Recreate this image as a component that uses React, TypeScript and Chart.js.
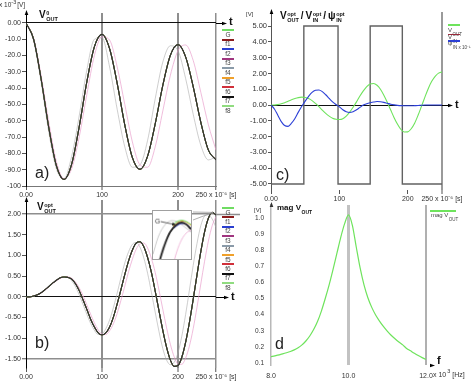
import React, { useEffect, useRef } from "react";
import { Chart, registerables } from "chart.js";

Chart.register(...registerables);

// ---------------- DATA ----------------
// panel a: V0_OUT (x10^-3 V) vs t (us)
const tA = [0, 10, 20, 30, 40, 50, 60, 70, 80, 90, 100, 110, 120, 130, 140, 150, 160, 170, 180, 190, 200, 210, 220, 230, 240, 250];
const aMain = [0, -10.0, -34.7, -64.3, -87.6, -96.0, -86.7, -63.7, -36.2, -14.6, -7.0, -15.8, -37.1, -62.6, -82.6, -89.8, -81.7, -61.9, -38.3, -19.8, -13.3, -20.8, -39.1, -60.9, -78.0, -84.0];
const aPink = [0, -9.3, -32.5, -60.8, -85.0, -95.5, -89.5, -70.0, -44.0, -20.0, -8.5, -10.5, -27.0, -50.0, -73.0, -87.0, -88.5, -76.0, -54.0, -32.0, -17.0, -13.5, -23.0, -42.5, -62.5, -78.0];
const aGray = [0, -11.0, -36.5, -67.0, -89.5, -95.5, -82.0, -57.0, -29.0, -10.0, -9.0, -27.0, -53.0, -76.0, -88.5, -87.0, -72.0, -46.5, -24.0, -14.0, -17.0, -34.0, -56.0, -75.0, -84.0, -82.0];

// panel b / c: time base (us)
const tB = [0, 5, 10, 15, 20, 25, 30, 35, 40, 45, 50, 55, 60, 65, 70, 75, 80, 85, 90, 95, 100, 105, 110, 115, 120, 125, 130, 135, 140, 145, 150, 155, 160, 165, 170, 175, 180, 185, 190, 195, 200, 205, 210, 215, 220, 225, 230, 235, 240, 245, 250];
const bMain = [0, 0, 0.02, 0.05, 0.10, 0.17, 0.25, 0.33, 0.40, 0.46, 0.48, 0.47, 0.43, 0.32, 0.15, -0.07, -0.30, -0.54, -0.73, -0.87, -0.92, -0.87, -0.73, -0.49, -0.17, 0.18, 0.54, 0.87, 1.13, 1.30, 1.33, 1.21, 0.95, 0.59, 0.14, -0.34, -0.81, -1.22, -1.53, -1.68, -1.66, -1.46, -1.10, -0.62, -0.06, 0.53, 1.09, 1.57, 1.90, 2.04, 1.98];
const bPink = [0, 0, 0.02, 0.05, 0.095, 0.16, 0.235, 0.32, 0.385, 0.445, 0.475, 0.485, 0.45, 0.36, 0.22, 0.03, -0.19, -0.42, -0.63, -0.80, -0.90, -0.91, -0.82, -0.65, -0.40, -0.08, 0.26, 0.61, 0.91, 1.15, 1.28, 1.30, 1.18, 0.93, 0.59, 0.16, -0.30, -0.75, -1.15, -1.45, -1.62, -1.63, -1.48, -1.19, -0.77, -0.25, 0.31, 0.86, 1.35, 1.72, 1.94];
const bGray = [0, 0, 0.02, 0.055, 0.11, 0.18, 0.265, 0.345, 0.415, 0.465, 0.482, 0.47, 0.39, 0.25, 0.05, -0.18, -0.42, -0.64, -0.81, -0.91, -0.90, -0.77, -0.56, -0.26, 0.09, 0.47, 0.82, 1.09, 1.27, 1.31, 1.20, 0.94, 0.57, 0.11, -0.37, -0.84, -1.25, -1.53, -1.64, -1.58, -1.35, -0.95, -0.43, 0.16, 0.76, 1.29, 1.72, 1.95, 1.98, 1.88, 1.68];

// inset of panel b (zoom of the last peak)
const insDarkT = [229.3, 233.8, 237.7, 242.3, 245.5, 248.8, 252];
const insDarkV = [1.633, 1.818, 1.935, 2.002, 2.019, 2.002, 1.960];
const insGT = [239, 242.3, 245.5, 248.8, 252];
const insGV = [1.994, 2.028, 2.040, 2.028, 2.002];
const insYT = [239.7, 242.9, 246.1, 249.4, 252];
const insYV = [1.986, 2.019, 2.032, 2.019, 1.994];
const insBT = [240.3, 243.6, 246.8, 250.1, 252];
const insBV = [1.969, 2.002, 2.011, 1.994, 1.969];
const insPT = [239, 242.3, 245.5, 248.8, 252];
const insPV = [1.616, 1.767, 1.868, 1.927, 1.952];
const insGrT = [226, 229.3, 232.5, 235.8, 239, 242.3, 245.5, 252];
const insGrV = [1.742, 1.885, 1.969, 2.019, 2.036, 2.028, 2.002, 1.935];

// panel c
const cVout = [0, 0, 0.03, 0.08, 0.15, 0.24, 0.33, 0.41, 0.47, 0.50, 0.48, 0.41, 0.28, 0.10, -0.10, -0.32, -0.53, -0.70, -0.83, -0.90, -0.92, -0.87, -0.70, -0.45, -0.14, 0.20, 0.57, 0.90, 1.17, 1.33, 1.36, 1.25, 1.00, 0.62, 0.17, -0.32, -0.80, -1.22, -1.55, -1.71, -1.70, -1.50, -1.15, -0.65, -0.08, 0.50, 1.05, 1.50, 1.82, 2.02, 2.10];
const cPsi = [0, -0.25, -0.65, -1.05, -1.30, -1.35, -1.15, -0.85, -0.45, -0.08, 0.25, 0.55, 0.80, 0.93, 0.95, 0.85, 0.65, 0.42, 0.20, 0.03, -0.12, -0.30, -0.42, -0.47, -0.42, -0.30, -0.15, 0.0, 0.08, 0.14, 0.19, 0.22, 0.21, 0.17, 0.11, 0.05, 0.01, -0.02, -0.04, -0.05, -0.05, -0.05, -0.04, -0.03, -0.01, 0, 0, 0, 0, 0, 0];
const sqT = [0, 48, 48, 98, 98, 145, 145, 192, 192, 250];
const sqV = [-5, -5, 5, 5, -5, -5, 5, 5, -5, -5];

// panel d
const dF = [8.0, 8.1, 8.2, 8.3, 8.4, 8.5, 8.6, 8.7, 8.8, 8.9, 9.0, 9.1, 9.2, 9.3, 9.4, 9.5, 9.6, 9.7, 9.8, 9.9, 10.0, 10.1, 10.2, 10.3, 10.4, 10.5, 10.6, 10.7, 10.8, 10.9, 11.0, 11.1, 11.2, 11.3, 11.4, 11.5, 11.6, 11.7, 11.8, 11.9, 12.0];
const dMag = [0.139, 0.144, 0.150, 0.156, 0.163, 0.171, 0.181, 0.194, 0.212, 0.236, 0.267, 0.307, 0.357, 0.422, 0.50, 0.585, 0.68, 0.78, 0.88, 0.965, 1.02, 0.955, 0.82, 0.69, 0.585, 0.505, 0.445, 0.398, 0.360, 0.327, 0.298, 0.272, 0.250, 0.230, 0.212, 0.190, 0.175, 0.160, 0.146, 0.133, 0.121];

// ticks
const xTicksT = [0, 100, 200, 250];
const xLabelsT = ["0.00", "100", "200", "250 x 10\u207B\u2076 [s]"];
const yTicksA = [-100, -90, -80, -70, -60, -50, -40, -30, -20, -10, 0];
const yLabelsA = ["-100", "-90.0", "-80.0", "-70.0", "-60.0", "-50.0", "-40.0", "-30.0", "-20.0", "-10.0", "0.00"];
const yTicksB = [-1.5, -1, -0.5, 0, 0.5, 1, 1.5, 2];
const yLabelsB = ["-1.50", "-1.00", "-0.50", "0.00", "0.50", "1.00", "1.50", "2.00"];
const yTicksC = [-5, -4, -3, -2, -1, 0, 1, 2, 3, 4, 5];
const yLabelsC = ["-5.00", "-4.00", "-3.00", "-2.00", "-1.00", "0.00", "1.00", "2.00", "3.00", "4.00", "5.00"];
const yTicksD = [0.1, 0.2, 0.3, 0.4, 0.5, 0.6, 0.7, 0.8, 0.9, 1.0];
const yLabelsD = ["0.1", "0.2", "0.3", "0.4", "0.5", "0.6", "0.7", "0.8", "0.9", "1.0"];
const xTicksD = [8, 10, 12];
const xLabelsD = ["8.0", "10.0", "12.0"];

const seriesNames = ["G", "f1", "f2", "f3", "f4", "f5", "f6", "f7", "f8"];

// ---------------- STYLES ----------------
const FONT = '"Liberation Sans", Arial, Helvetica, sans-serif';
const seriesColors = ["#6fdc62", "#8b1c1c", "#2a3fd0", "#a0357f", "#8a9aa8", "#f0a02a", "#d0303a", "#111111", "#90dc80"];
const GREEN = "#6ee35c";
const BLUE = "#2b3fd6";
const PINK = "rgba(232,150,200,0.75)";
const LGRAY = "rgba(165,165,165,0.65)";
const DARK = "#303030";
const TRANSP = "rgba(0,0,0,0)";

const near = (a: number, b: number) => Math.abs(a - b) < 1e-6;

function mk(xs: number[], ys: number[], color: string, width: number, extra: any = {}) {
  return {
    data: xs.map((x, i) => ({ x, y: ys[i] })),
    borderColor: color,
    borderWidth: width,
    pointRadius: 0,
    fill: false,
    cubicInterpolationMode: "monotone",
    ...extra,
  };
}

const decorPlugin: any = {
  id: "decor",
  defaults: { enabled: false },
  afterDraw(chart: any, _a: any, o: any) {
    if (!o || !o.enabled) return;
    const { ctx, chartArea: ca, scales } = chart;
    const xs = scales.x;
    const ys = scales.y;
    ctx.save();
    (o.hExt || []).forEach((h: any) => {
      const y = Math.round(ys.getPixelForValue(h.value)) + 0.5;
      ctx.strokeStyle = h.color;
      ctx.lineWidth = h.width;
      ctx.beginPath();
      ctx.moveTo(ca.right, y);
      ctx.lineTo(ca.right + h.ext, y);
      ctx.stroke();
    });
    (o.connectors || []).forEach((c: any) => {
      ctx.strokeStyle = "#9a9a9a";
      ctx.lineWidth = 0.8;
      ctx.beginPath();
      ctx.moveTo(c.from[0], c.from[1]);
      ctx.lineTo(xs.getPixelForValue(c.to[0]), ys.getPixelForValue(c.to[1]));
      ctx.stroke();
    });
    if (o.yArrow) {
      ctx.fillStyle = o.yArrowColor || "#000";
      const x = ca.left + 0.5;
      ctx.beginPath();
      ctx.moveTo(x, ca.top - 3);
      ctx.lineTo(x - 1.8, ca.top + 2);
      ctx.lineTo(x + 1.8, ca.top + 2);
      ctx.closePath();
      ctx.fill();
    }
    if (o.xArrow) {
      const y = Math.round(ys.getPixelForValue(o.xArrow.value)) + 0.5;
      const x1 = ca.right + o.xArrow.ext;
      ctx.strokeStyle = "#000";
      ctx.lineWidth = 1;
      if (o.xArrow.line) {
        ctx.beginPath();
        ctx.moveTo(ca.right, y);
        ctx.lineTo(x1, y);
        ctx.stroke();
      }
      ctx.fillStyle = "#000";
      ctx.beginPath();
      ctx.moveTo(x1 + 3, y);
      ctx.lineTo(x1 - 2, y - 1.8);
      ctx.lineTo(x1 - 2, y + 1.8);
      ctx.closePath();
      ctx.fill();
    }
    if (o.note) {
      const n = o.note;
      ctx.fillStyle = "#333";
      ctx.font = `7px ${FONT}`;
      ctx.textBaseline = "top";
      ctx.fillText(n.text, ca.left + n.tx, ca.top + n.ty);
      const sx = ca.left + n.tx + 6;
      const sy = ca.top + n.ty + 3;
      const ex = xs.getPixelForValue(n.to[0]);
      const ey = ys.getPixelForValue(n.to[1]);
      ctx.strokeStyle = "#333";
      ctx.lineWidth = 0.8;
      ctx.beginPath();
      ctx.moveTo(sx, sy);
      ctx.lineTo(ex, ey);
      ctx.stroke();
      const ang = Math.atan2(ey - sy, ex - sx);
      ctx.fillStyle = "#222";
      ctx.beginPath();
      ctx.moveTo(ex, ey);
      ctx.lineTo(ex - 4 * Math.cos(ang - 0.45), ey - 4 * Math.sin(ang - 0.45));
      ctx.lineTo(ex - 4 * Math.cos(ang + 0.45), ey - 4 * Math.sin(ang + 0.45));
      ctx.closePath();
      ctx.fill();
    }
    ctx.restore();
  },
};
Chart.register(decorPlugin);

function opts(c: any): any {
  const gx = (ctx: any) => c.xGrid(ctx && ctx.tick ? ctx.tick.value : NaN);
  const gy = (ctx: any) => c.yGrid(ctx && ctx.tick ? ctx.tick.value : NaN);
  return {
    responsive: false,
    maintainAspectRatio: false,
    animation: false,
    events: [],
    layout: { autoPadding: false, padding: c.pad },
    plugins: { legend: { display: false }, tooltip: { enabled: false }, decor: c.decor || { enabled: false } },
    scales: {
      x: {
        type: "linear",
        min: c.xMin,
        max: c.xMax,
        bounds: "data",
        afterBuildTicks: (s: any) => {
          s.ticks = c.xTicks.map((v: number) => ({ value: v }));
        },
        afterFit: (s: any) => {
          s.height = c.xH;
          s.paddingLeft = 0;
          s.paddingRight = 0;
        },
        ticks: {
          autoSkip: false,
          maxRotation: 0,
          minRotation: 0,
          padding: c.xPad ?? 1,
          color: "#333",
          font: { family: FONT, size: c.xFont ?? 7 },
          callback: (_v: any, i: number) => c.xLabels[i],
        },
        grid: {
          drawTicks: true,
          tickLength: 4,
          tickColor: c.xTickColor || "#555",
          tickWidth: 1,
          color: (ctx: any) => gx(ctx)[0],
          lineWidth: (ctx: any) => gx(ctx)[1],
        },
        border: { display: !!c.xBorder, color: c.xBorder || "#000", width: 1 },
      },
      y: {
        type: "linear",
        min: c.yMin,
        max: c.yMax,
        bounds: "data",
        afterBuildTicks: (s: any) => {
          s.ticks = c.yTicks.map((v: number) => ({ value: v }));
        },
        afterFit: (s: any) => {
          s.width = c.yW;
          s.paddingTop = 0;
          s.paddingBottom = 0;
        },
        ticks: {
          autoSkip: false,
          padding: c.yPad ?? 1,
          color: "#333",
          font: { family: FONT, size: c.yFont ?? 7 },
          callback: (_v: any, i: number) => c.yLabels[i],
        },
        grid: {
          drawTicks: true,
          tickLength: c.yTick ?? 4,
          tickColor: c.yTickColor || "#555",
          tickWidth: 1,
          color: (ctx: any) => gy(ctx)[0],
          lineWidth: (ctx: any) => gy(ctx)[1],
        },
        border: { display: true, color: c.yBorder || "#000", width: c.yBorderW || 1 },
      },
    },
  };
}

const gridT = (v: number) =>
  near(v, 100) || near(v, 200) ? ["#8e8e8e", 2] : near(v, 250) ? ["#8e8e8e", 1.5] : [TRANSP, 1];

// ---------------- small text helpers ----------------
const T = ({ x, y, s = 7, b = false, c = "#333", children, st }: any) => (
  <div
    style={{
      position: "absolute",
      left: x,
      top: y,
      fontSize: s,
      fontWeight: b ? "bold" : "normal",
      color: c,
      lineHeight: 1,
      whiteSpace: "nowrap",
      display: "flex",
      alignItems: "flex-start",
      fontFamily: FONT,
      ...(st || {}),
    }}
  >
    {children}
  </div>
);

const St = ({ sup, sub, s = 5.5, b = true }: any) => (
  <span
    style={{
      display: "inline-flex",
      flexDirection: "column",
      fontSize: s,
      lineHeight: `${s + 0.6}px`,
      marginLeft: 0.5,
      fontWeight: b ? "bold" : "normal",
    }}
  >
    <span>{sup || "\u00a0"}</span>
    <span>{sub}</span>
  </span>
);

function Legend9({ x, y0, step }: any) {
  return (
    <>
      {seriesNames.map((n, i) => (
        <React.Fragment key={n}>
          <div
            style={{
              position: "absolute",
              left: x,
              top: y0 + i * step,
              width: 12,
              height: 0,
              borderTop: `2px ${i === 8 ? "dashed" : "solid"} ${seriesColors[i]}`,
            }}
          />
          <div
            style={{
              position: "absolute",
              left: x,
              width: 12,
              top: y0 + i * step + 2.5,
              fontSize: 6.5,
              lineHeight: 1,
              textAlign: "center",
              color: "#444",
              fontFamily: FONT,
            }}
          >
            {n}
          </div>
        </React.Fragment>
      ))}
    </>
  );
}

export default function App() {
  const refA = useRef<HTMLCanvasElement>(null);
  const refB = useRef<HTMLCanvasElement>(null);
  const refC = useRef<HTMLCanvasElement>(null);
  const refD = useRef<HTMLCanvasElement>(null);
  const refI = useRef<HTMLCanvasElement>(null);

  useEffect(() => {
    const charts: Chart[] = [];
    const mainIdx = [0, 1, 2, 5, 6, 8];

    // ---- a ----
    const dsA: any[] = [mk(tA, aMain, DARK, 1.15)];
    mainIdx.forEach((k) => dsA.push(mk(tA, aMain, seriesColors[k], 0.9)));
    dsA.push(mk(tA, aPink, PINK, 0.85));
    dsA.push(mk(tA, aGray, LGRAY, 0.85));
    charts.push(
      new Chart(refA.current!, {
        type: "line",
        data: { datasets: dsA },
        options: opts({
          pad: { left: 0, top: 13, right: 29, bottom: 0 },
          xMin: 0, xMax: 250, xTicks: xTicksT, xLabels: xLabelsT, xH: 19, xBorder: "#777",
          yMin: -100, yMax: 6.1, yTicks: yTicksA, yLabels: yLabelsA, yW: 26,
          xGrid: gridT,
          yGrid: (v: number) => (near(v, 0) ? ["#111", 1] : [TRANSP, 1]),
          decor: { enabled: true, yArrow: true, xArrow: { value: 0, ext: 8, line: true } },
        }),
      })
    );

    // ---- b ----
    const dsB: any[] = [mk(tB, bMain, DARK, 1.15)];
    mainIdx.forEach((k) => dsB.push(mk(tB, bMain, seriesColors[k], 0.9)));
    dsB.push(mk(tB, bPink, PINK, 0.85));
    dsB.push(mk(tB, bGray, LGRAY, 0.85));
    charts.push(
      new Chart(refB.current!, {
        type: "line",
        data: { datasets: dsB },
        options: opts({
          pad: { left: 0, top: 10, right: 29, bottom: 0 },
          xMin: 0, xMax: 250, xTicks: xTicksT, xLabels: xLabelsT, xH: 13,
          yMin: -1.72, yMax: 2.34, yTicks: yTicksB, yLabels: yLabelsB, yW: 26,
          xGrid: gridT,
          yGrid: (v: number) =>
            near(v, 0) ? ["#111", 1] : near(v, 2) || near(v, -1.5) ? ["#8e8e8e", 1.5] : [TRANSP, 1],
          decor: {
            enabled: true,
            yArrow: true,
            xArrow: { value: 0, ext: 10, line: true },
            hExt: [{ value: 2, ext: 24, color: "#8e8e8e", width: 1.5 }],
            connectors: [
              { from: [193, 22], to: [246, 2.04] },
              { from: [193, 30], to: [246, 2.04] },
            ],
          },
        }),
      })
    );

    // ---- inset ----
    charts.push(
      new Chart(refI.current!, {
        type: "line",
        data: {
          datasets: [
            mk(insDarkT, insDarkV, "#2a2a2a", 2),
            mk(insGT, insGV, seriesColors[0], 1),
            mk(insYT, insYV, seriesColors[5], 1),
            mk(insBT, insBV, seriesColors[2], 1),
            mk(insPT, insPV, PINK, 0.9),
            mk(insGrT, insGrV, LGRAY, 0.9),
          ],
        },
        options: {
          responsive: false,
          maintainAspectRatio: false,
          animation: false,
          events: [],
          layout: { padding: 0 },
          plugins: {
            legend: { display: false },
            tooltip: { enabled: false },
            decor: { enabled: true, note: { text: "G", tx: 2, ty: 8, to: [241.5, 2.0] } },
          } as any,
          scales: {
            x: { type: "linear", min: 226, max: 252, display: false },
            y: { type: "linear", min: 1.7, max: 2.12, display: false },
          },
        },
      })
    );

    // ---- c ----
    charts.push(
      new Chart(refC.current!, {
        type: "line",
        data: {
          datasets: [
            mk(tB, cPsi, BLUE, 1.1),
            mk(tB, cVout, GREEN, 1.1),
            { ...mk(sqT, sqV, "#626262", 1.4), cubicInterpolationMode: "default", tension: 0 },
          ],
        },
        options: opts({
          pad: { left: 0, top: 12, right: 32, bottom: 0 },
          xMin: 0, xMax: 250, xTicks: xTicksT, xLabels: xLabelsT, xH: 15, xFont: 7,
          yMin: -5.38, yMax: 5.89, yTicks: yTicksC, yLabels: yLabelsC, yW: 34, yTick: 3, yFont: 7.5,
          xGrid: (v: number) => (near(v, 250) ? ["#9a9a9a", 2] : [TRANSP, 1]),
          yGrid: (v: number) => (near(v, 0) ? ["#111", 1] : [TRANSP, 1]),
          yBorder: "#555",
          decor: { enabled: true, yArrow: true, xArrow: { value: 0, ext: 8, line: true } },
        }),
      })
    );

    // ---- d ----
    charts.push(
      new Chart(refD.current!, {
        type: "line",
        data: { datasets: [mk(dF, dMag, GREEN, 1.2)] },
        options: opts({
          pad: { left: 0, top: 10, right: 48, bottom: 0 },
          xMin: 8, xMax: 12, xTicks: xTicksD, xLabels: xLabelsD, xH: 16, xPad: 3,
          yMin: 0.087, yMax: 1.081, yTicks: yTicksD, yLabels: yLabelsD, yW: 34, yFont: 6.5, yPad: 4, yTick: 3,
          yTickColor: TRANSP, xTickColor: TRANSP,
          xGrid: (v: number) => (near(v, 10) ? ["#c2c2c2", 3] : near(v, 12) ? ["#b0b0b0", 2] : [TRANSP, 1]),
          yGrid: () => [TRANSP, 1],
          yBorder: "#b8b8b8",
          yBorderW: 1.5,
          decor: { enabled: true, yArrow: true, yArrowColor: "#333", xArrow: { value: 0.087, ext: 6, line: false } },
        }),
      })
    );

    return () => charts.forEach((c) => c.destroy());
  }, []);

  const cv = (l: number, t: number, w: number, h: number, extra: any = {}) => ({
    position: "absolute" as const,
    left: l,
    top: t,
    width: w,
    height: h,
    ...extra,
  });

  return (
    <div
      style={{
        position: "fixed",
        left: 0,
        top: 0,
        width: 474,
        height: 381,
        background: "#fff",
        overflow: "hidden",
        fontFamily: FONT,
      }}
    >
      <canvas ref={refA} width={245} height={205} style={cv(0, 0, 245, 205)} />
      <canvas ref={refB} width={245} height={191} style={cv(0, 190, 245, 191)} />
      <canvas ref={refC} width={237} height={205} style={cv(237, 0, 237, 205)} />
      <canvas ref={refD} width={237} height={186} style={cv(237, 195, 237, 186)} />
      <canvas
        ref={refI}
        width={40}
        height={50}
        style={cv(152, 210, 40, 50, { border: "1px solid #a0a0a0", background: "#fff" })}
      />

      {/* panel a texts */}
      <T x={-1} y={2} s={6.5}>
        x 10<span style={{ fontSize: 5.5, marginTop: -2 }}>-3</span>
        <span style={{ marginLeft: 1 }}>[V]</span>
      </T>
      <T x={39} y={10} s={10} b c="#111">
        V<St sup="0" sub="OUT" />
      </T>
      <T x={229} y={16} s={11} b c="#111">t</T>
      <T x={35} y={165} s={16} c="#222">a)</T>
      <Legend9 x={222} y0={29} step={9.5} />

      {/* panel b texts */}
      <T x={37} y={202} s={10} b c="#111">
        V<St sup="opt" sub="OUT" />
      </T>
      <T x={231} y={291} s={11} b c="#111">t</T>
      <T x={35} y={335} s={16} c="#222">b)</T>
      <Legend9 x={222} y0={207} step={9.4} />

      {/* panel c texts */}
      <T x={246} y={11} s={6}>[V]</T>
      <T x={280} y={11} s={10} b c="#111">
        V<St sup="opt" sub="OUT" />
        <span style={{ margin: "0 2px" }}>/</span>
        V<St sup="opt" sub="IN" />
        <span style={{ margin: "0 2px" }}>/</span>
        ψ<St sup="opt" sub="IN" />
      </T>
      <T x={455} y={99} s={11} b c="#111">t</T>
      <T x={276} y={167} s={16} c="#222">c)</T>
      {/* c legend */}
      <div style={cv(448, 24, 12, 0, { borderTop: `2px solid ${GREEN}` })} />
      <T x={448} y={27} s={6} c="#444">
        V<St sub="OUT" s={4.5} b={false} />
      </T>
      <div style={cv(448, 33.5, 12, 0, { borderTop: "1.5px solid #9a2a3a" })} />
      <T x={448} y={34} s={6} c="#444">
        V<St sub="IN" s={4.5} b={false} />
      </T>
      <div style={cv(448, 39.5, 12, 0, { borderTop: `2px solid ${BLUE}` })} />
      <T x={448} y={40} s={6} c="#444">
        ψ<St sub={"IN x 10\u207B\u00B9"} s={4.5} b={false} />
      </T>

      {/* panel d texts */}
      <T x={254} y={207} s={6}>[V]</T>
      <T x={277} y={204} s={8} b c="#111">
        mag V<St sub="OUT" s={5} />
      </T>
      <T x={437} y={355} s={11} b c="#111">f</T>
      <T x={433} y={371} s={7} c="#333">
        x 10<span style={{ fontSize: 5.5, marginTop: -2, marginLeft: 1 }}>3</span>
        <span style={{ marginLeft: 2 }}>[Hz]</span>
      </T>
      <T x={275} y={336} s={16} c="#222">d</T>
      <div style={cv(430, 210, 26, 0, { borderTop: `2px solid ${GREEN}` })} />
      <T x={431} y={212} s={6} c="#444">
        mag V<St sub="OUT" s={4.5} b={false} />
      </T>
    </div>
  );
}
